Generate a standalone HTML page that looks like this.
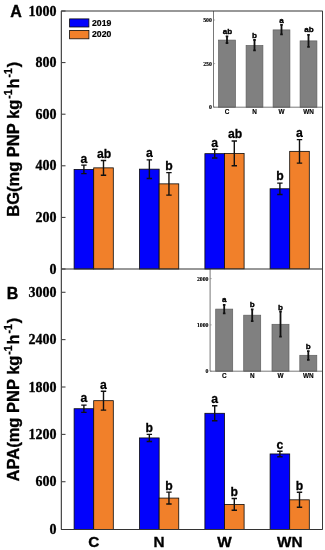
<!DOCTYPE html>
<html><head><meta charset="utf-8"><title>Figure</title>
<style>html,body{margin:0;padding:0;background:#fff}svg{display:block}</style></head>
<body><svg width="325" height="550" viewBox="0 0 325 550">
<rect width="325" height="550" fill="#fff"/>
<rect x="74.10" y="169.41" width="19.60" height="99.59" fill="#0202fc" stroke="#0a0a0a" stroke-width="0.8"/>
<rect x="93.70" y="167.86" width="19.60" height="101.14" fill="#f1802a" stroke="#0a0a0a" stroke-width="0.8"/>
<path d="M83.90 165.15V173.67M81.20 165.15H86.60M81.20 173.67H86.60" stroke="#111" stroke-width="1.4" fill="none"/>
<path d="M103.50 160.51V175.22M100.80 160.51H106.20M100.80 175.22H106.20" stroke="#111" stroke-width="1.4" fill="none"/>
<text x="83.90" y="162.55" font-size="12.2" font-family="Liberation Sans, Arial, sans-serif" font-weight="bold" text-anchor="middle" fill="#000" stroke="#000" stroke-width="0.27" >a</text>
<text x="104.20" y="157.91" font-size="12.2" font-family="Liberation Sans, Arial, sans-serif" font-weight="bold" text-anchor="middle" fill="#000" stroke="#000" stroke-width="0.27" >ab</text>
<rect x="139.55" y="169.15" width="19.60" height="99.85" fill="#0202fc" stroke="#0a0a0a" stroke-width="0.8"/>
<rect x="159.15" y="183.86" width="19.60" height="85.14" fill="#f1802a" stroke="#0a0a0a" stroke-width="0.8"/>
<path d="M149.35 159.87V178.44M146.65 159.87H152.05M146.65 178.44H152.05" stroke="#111" stroke-width="1.4" fill="none"/>
<path d="M168.95 172.64V195.08M166.25 172.64H171.65M166.25 195.08H171.65" stroke="#111" stroke-width="1.4" fill="none"/>
<text x="149.35" y="157.27" font-size="12.2" font-family="Liberation Sans, Arial, sans-serif" font-weight="bold" text-anchor="middle" fill="#000" stroke="#000" stroke-width="0.27" >a</text>
<text x="168.95" y="170.04" font-size="12.2" font-family="Liberation Sans, Arial, sans-serif" font-weight="bold" text-anchor="middle" fill="#000" stroke="#000" stroke-width="0.27" >b</text>
<rect x="204.90" y="153.67" width="19.60" height="115.33" fill="#0202fc" stroke="#0a0a0a" stroke-width="0.8"/>
<rect x="224.50" y="153.42" width="19.60" height="115.58" fill="#f1802a" stroke="#0a0a0a" stroke-width="0.8"/>
<path d="M214.70 149.29V158.06M212.00 149.29H217.40M212.00 158.06H217.40" stroke="#111" stroke-width="1.4" fill="none"/>
<path d="M234.30 141.03V165.80M231.60 141.03H237.00M231.60 165.80H237.00" stroke="#111" stroke-width="1.4" fill="none"/>
<text x="214.70" y="146.69" font-size="12.2" font-family="Liberation Sans, Arial, sans-serif" font-weight="bold" text-anchor="middle" fill="#000" stroke="#000" stroke-width="0.27" >a</text>
<text x="235.00" y="138.43" font-size="12.2" font-family="Liberation Sans, Arial, sans-serif" font-weight="bold" text-anchor="middle" fill="#000" stroke="#000" stroke-width="0.27" >ab</text>
<rect x="270.10" y="188.76" width="19.60" height="80.24" fill="#0202fc" stroke="#0a0a0a" stroke-width="0.8"/>
<rect x="289.70" y="151.35" width="19.60" height="117.65" fill="#f1802a" stroke="#0a0a0a" stroke-width="0.8"/>
<path d="M279.90 183.09V194.44M277.20 183.09H282.60M277.20 194.44H282.60" stroke="#111" stroke-width="1.4" fill="none"/>
<path d="M299.50 139.61V163.09M296.80 139.61H302.20M296.80 163.09H302.20" stroke="#111" stroke-width="1.4" fill="none"/>
<text x="279.90" y="180.49" font-size="12.2" font-family="Liberation Sans, Arial, sans-serif" font-weight="bold" text-anchor="middle" fill="#000" stroke="#000" stroke-width="0.27" >b</text>
<text x="299.50" y="137.01" font-size="12.2" font-family="Liberation Sans, Arial, sans-serif" font-weight="bold" text-anchor="middle" fill="#000" stroke="#000" stroke-width="0.27" >a</text>
<rect x="74.10" y="408.72" width="19.60" height="120.78" fill="#0202fc" stroke="#0a0a0a" stroke-width="0.8"/>
<rect x="93.70" y="400.67" width="19.60" height="128.83" fill="#f1802a" stroke="#0a0a0a" stroke-width="0.8"/>
<path d="M83.90 405.09V412.35M81.20 405.09H86.60M81.20 412.35H86.60" stroke="#111" stroke-width="1.4" fill="none"/>
<path d="M103.50 391.20V410.14M100.80 391.20H106.20M100.80 410.14H106.20" stroke="#111" stroke-width="1.4" fill="none"/>
<text x="83.90" y="402.49" font-size="12.2" font-family="Liberation Sans, Arial, sans-serif" font-weight="bold" text-anchor="middle" fill="#000" stroke="#000" stroke-width="0.27" >a</text>
<text x="103.50" y="388.60" font-size="12.2" font-family="Liberation Sans, Arial, sans-serif" font-weight="bold" text-anchor="middle" fill="#000" stroke="#000" stroke-width="0.27" >a</text>
<rect x="139.55" y="437.93" width="19.60" height="91.57" fill="#0202fc" stroke="#0a0a0a" stroke-width="0.8"/>
<rect x="159.15" y="498.08" width="19.60" height="31.42" fill="#f1802a" stroke="#0a0a0a" stroke-width="0.8"/>
<path d="M149.35 434.38V441.48M146.65 434.38H152.05M146.65 441.48H152.05" stroke="#111" stroke-width="1.4" fill="none"/>
<path d="M168.95 492.16V504.00M166.25 492.16H171.65M166.25 504.00H171.65" stroke="#111" stroke-width="1.4" fill="none"/>
<text x="149.35" y="431.78" font-size="12.2" font-family="Liberation Sans, Arial, sans-serif" font-weight="bold" text-anchor="middle" fill="#000" stroke="#000" stroke-width="0.27" >b</text>
<text x="168.95" y="489.56" font-size="12.2" font-family="Liberation Sans, Arial, sans-serif" font-weight="bold" text-anchor="middle" fill="#000" stroke="#000" stroke-width="0.27" >b</text>
<rect x="204.90" y="413.30" width="19.60" height="116.20" fill="#0202fc" stroke="#0a0a0a" stroke-width="0.8"/>
<rect x="224.50" y="504.40" width="19.60" height="25.10" fill="#f1802a" stroke="#0a0a0a" stroke-width="0.8"/>
<path d="M214.70 405.80V420.80M212.00 405.80H217.40M212.00 420.80H217.40" stroke="#111" stroke-width="1.4" fill="none"/>
<path d="M234.30 498.48V510.32M231.60 498.48H237.00M231.60 510.32H237.00" stroke="#111" stroke-width="1.4" fill="none"/>
<text x="214.70" y="403.20" font-size="12.2" font-family="Liberation Sans, Arial, sans-serif" font-weight="bold" text-anchor="middle" fill="#000" stroke="#000" stroke-width="0.27" >a</text>
<text x="234.30" y="495.88" font-size="12.2" font-family="Liberation Sans, Arial, sans-serif" font-weight="bold" text-anchor="middle" fill="#000" stroke="#000" stroke-width="0.27" >b</text>
<rect x="270.10" y="453.95" width="19.60" height="75.55" fill="#0202fc" stroke="#0a0a0a" stroke-width="0.8"/>
<rect x="289.70" y="499.82" width="19.60" height="29.68" fill="#f1802a" stroke="#0a0a0a" stroke-width="0.8"/>
<path d="M279.90 451.19V456.72M277.20 451.19H282.60M277.20 456.72H282.60" stroke="#111" stroke-width="1.4" fill="none"/>
<path d="M299.50 492.32V507.32M296.80 492.32H302.20M296.80 507.32H302.20" stroke="#111" stroke-width="1.4" fill="none"/>
<text x="279.90" y="448.59" font-size="12.2" font-family="Liberation Sans, Arial, sans-serif" font-weight="bold" text-anchor="middle" fill="#000" stroke="#000" stroke-width="0.27" >c</text>
<text x="299.50" y="489.72" font-size="12.2" font-family="Liberation Sans, Arial, sans-serif" font-weight="bold" text-anchor="middle" fill="#000" stroke="#000" stroke-width="0.27" >b</text>
<path d="M61.5 269.00h4" stroke="#333" stroke-width="1"/>
<text x="56.50" y="273.60" font-size="14" font-family="Liberation Serif, Times New Roman, serif" font-weight="bold" text-anchor="end" fill="#000" stroke="#000" stroke-width="0.31" >0</text>
<path d="M61.5 217.40h4" stroke="#333" stroke-width="1"/>
<text x="56.50" y="222.00" font-size="14" font-family="Liberation Serif, Times New Roman, serif" font-weight="bold" text-anchor="end" fill="#000" stroke="#000" stroke-width="0.31" >200</text>
<path d="M61.5 165.80h4" stroke="#333" stroke-width="1"/>
<text x="56.50" y="170.40" font-size="14" font-family="Liberation Serif, Times New Roman, serif" font-weight="bold" text-anchor="end" fill="#000" stroke="#000" stroke-width="0.31" >400</text>
<path d="M61.5 114.20h4" stroke="#333" stroke-width="1"/>
<text x="56.50" y="118.80" font-size="14" font-family="Liberation Serif, Times New Roman, serif" font-weight="bold" text-anchor="end" fill="#000" stroke="#000" stroke-width="0.31" >600</text>
<path d="M61.5 62.60h4" stroke="#333" stroke-width="1"/>
<text x="56.50" y="67.20" font-size="14" font-family="Liberation Serif, Times New Roman, serif" font-weight="bold" text-anchor="end" fill="#000" stroke="#000" stroke-width="0.31" >800</text>
<path d="M61.5 11.00h4" stroke="#333" stroke-width="1"/>
<text x="56.50" y="15.60" font-size="14" font-family="Liberation Serif, Times New Roman, serif" font-weight="bold" text-anchor="end" fill="#000" stroke="#000" stroke-width="0.31" >1000</text>
<path d="M61.5 529.50h4" stroke="#333" stroke-width="1"/>
<text x="56.50" y="534.10" font-size="14" font-family="Liberation Serif, Times New Roman, serif" font-weight="bold" text-anchor="end" fill="#000" stroke="#000" stroke-width="0.31" >0</text>
<path d="M61.5 481.74h4" stroke="#333" stroke-width="1"/>
<text x="56.50" y="486.34" font-size="14" font-family="Liberation Serif, Times New Roman, serif" font-weight="bold" text-anchor="end" fill="#000" stroke="#000" stroke-width="0.31" >600</text>
<path d="M61.5 434.37h4" stroke="#333" stroke-width="1"/>
<text x="56.50" y="438.97" font-size="14" font-family="Liberation Serif, Times New Roman, serif" font-weight="bold" text-anchor="end" fill="#000" stroke="#000" stroke-width="0.31" >1200</text>
<path d="M61.5 387.01h4" stroke="#333" stroke-width="1"/>
<text x="56.50" y="391.61" font-size="14" font-family="Liberation Serif, Times New Roman, serif" font-weight="bold" text-anchor="end" fill="#000" stroke="#000" stroke-width="0.31" >1800</text>
<path d="M61.5 339.65h4" stroke="#333" stroke-width="1"/>
<text x="56.50" y="344.25" font-size="14" font-family="Liberation Serif, Times New Roman, serif" font-weight="bold" text-anchor="end" fill="#000" stroke="#000" stroke-width="0.31" >2400</text>
<path d="M61.5 292.28h4" stroke="#333" stroke-width="1"/>
<text x="56.50" y="296.88" font-size="14" font-family="Liberation Serif, Times New Roman, serif" font-weight="bold" text-anchor="end" fill="#000" stroke="#000" stroke-width="0.31" >3000</text>
<text x="93.70" y="547.10" font-size="15.3" font-family="Liberation Sans, Arial, sans-serif" font-weight="bold" text-anchor="middle" fill="#000" stroke="#000" stroke-width="0.34" >C</text>
<text x="159.15" y="547.10" font-size="15.3" font-family="Liberation Sans, Arial, sans-serif" font-weight="bold" text-anchor="middle" fill="#000" stroke="#000" stroke-width="0.34" >N</text>
<text x="224.50" y="547.10" font-size="15.3" font-family="Liberation Sans, Arial, sans-serif" font-weight="bold" text-anchor="middle" fill="#000" stroke="#000" stroke-width="0.34" >W</text>
<text x="289.70" y="547.10" font-size="15.3" font-family="Liberation Sans, Arial, sans-serif" font-weight="bold" text-anchor="middle" fill="#000" stroke="#000" stroke-width="0.34" >WN</text>
<text x="10.20" y="17.00" font-size="16" font-family="Liberation Sans, Arial, sans-serif" font-weight="bold" text-anchor="start" fill="#000" stroke="#000" stroke-width="0.35" >A</text>
<text x="6.70" y="299.30" font-size="16" font-family="Liberation Sans, Arial, sans-serif" font-weight="bold" text-anchor="start" fill="#000" stroke="#000" stroke-width="0.35" >B</text>
<text transform="translate(19.4,139.3) rotate(-90)" font-size="16.5" font-family="Liberation Sans, Arial, sans-serif" font-weight="bold" text-anchor="middle" fill="#000" stroke="#000" stroke-width="0.35">BG(mg PNP kg<tspan font-size="10.6" dy="-7.1" dx="0.9">-1</tspan><tspan dy="7.1" dx="0.8">h</tspan><tspan font-size="10.6" dy="-7.1" dx="0.9">-1</tspan><tspan dy="7.1" dx="0.8">)</tspan></text>
<text transform="translate(18.6,399.6) rotate(-90)" font-size="16.5" font-family="Liberation Sans, Arial, sans-serif" font-weight="bold" text-anchor="middle" fill="#000" stroke="#000" stroke-width="0.35">APA(mg PNP kg<tspan font-size="10.6" dy="-7.1" dx="0.9">-1</tspan><tspan dy="7.1" dx="0.8">h</tspan><tspan font-size="10.6" dy="-7.1" dx="0.9">-1</tspan><tspan dy="7.1" dx="0.8">)</tspan></text>
<rect x="69.6" y="18.9" width="19.3" height="8.1" fill="#0202fc" stroke="#0a0a0a" stroke-width="0.8"/>
<rect x="69.6" y="30.4" width="19.3" height="8.4" fill="#f1802a" stroke="#0a0a0a" stroke-width="0.8"/>
<text x="92.00" y="25.90" font-size="8.7" font-family="Liberation Sans, Arial, sans-serif" font-weight="bold" text-anchor="start" fill="#000" stroke="#000" stroke-width="0.19" >2019</text>
<text x="92.00" y="36.90" font-size="8.7" font-family="Liberation Sans, Arial, sans-serif" font-weight="bold" text-anchor="start" fill="#000" stroke="#000" stroke-width="0.19" >2020</text>
<rect x="213.5" y="11.5" width="108.30000000000001" height="95.7" fill="#fff" stroke="none"/>
<rect x="218.60" y="40.10" width="16.80" height="67.10" fill="#808080" stroke="#5e5e5e" stroke-width="0.7"/>
<path d="M227.00 36.40V43.00M225.70 36.40H228.30M225.70 43.00H228.30" stroke="#111" stroke-width="1.8" fill="none"/>
<text x="227.60" y="33.70" font-size="8.1" font-family="Liberation Sans, Arial, sans-serif" font-weight="bold" text-anchor="middle" fill="#000" stroke="#000" stroke-width="0.35" >ab</text>
<text x="227.00" y="114.10" font-size="6.4" font-family="Liberation Sans, Arial, sans-serif" font-weight="bold" text-anchor="middle" fill="#000" stroke="#000" stroke-width="0.14" >C</text>
<rect x="246.10" y="45.50" width="16.80" height="61.70" fill="#808080" stroke="#5e5e5e" stroke-width="0.7"/>
<path d="M254.50 40.00V50.40M253.20 40.00H255.80M253.20 50.40H255.80" stroke="#111" stroke-width="1.8" fill="none"/>
<text x="254.50" y="37.70" font-size="8.1" font-family="Liberation Sans, Arial, sans-serif" font-weight="bold" text-anchor="middle" fill="#000" stroke="#000" stroke-width="0.35" >b</text>
<text x="254.50" y="114.10" font-size="6.4" font-family="Liberation Sans, Arial, sans-serif" font-weight="bold" text-anchor="middle" fill="#000" stroke="#000" stroke-width="0.14" >N</text>
<rect x="273.10" y="29.90" width="16.80" height="77.30" fill="#808080" stroke="#5e5e5e" stroke-width="0.7"/>
<path d="M281.50 24.80V34.40M280.20 24.80H282.80M280.20 34.40H282.80" stroke="#111" stroke-width="1.8" fill="none"/>
<text x="281.50" y="22.50" font-size="8.1" font-family="Liberation Sans, Arial, sans-serif" font-weight="bold" text-anchor="middle" fill="#000" stroke="#000" stroke-width="0.35" >a</text>
<text x="281.50" y="114.10" font-size="6.4" font-family="Liberation Sans, Arial, sans-serif" font-weight="bold" text-anchor="middle" fill="#000" stroke="#000" stroke-width="0.14" >W</text>
<rect x="300.10" y="40.90" width="16.80" height="66.30" fill="#808080" stroke="#5e5e5e" stroke-width="0.7"/>
<path d="M308.50 34.80V46.80M307.20 34.80H309.80M307.20 46.80H309.80" stroke="#111" stroke-width="1.8" fill="none"/>
<text x="309.10" y="31.70" font-size="8.1" font-family="Liberation Sans, Arial, sans-serif" font-weight="bold" text-anchor="middle" fill="#000" stroke="#000" stroke-width="0.35" >ab</text>
<text x="308.50" y="114.10" font-size="6.4" font-family="Liberation Sans, Arial, sans-serif" font-weight="bold" text-anchor="middle" fill="#000" stroke="#000" stroke-width="0.14" >WN</text>
<path d="M213.5 11.0V107.2H322.3" fill="none" stroke="#555" stroke-width="0.8"/>
<path d="M213.5 107.20h1.6" stroke="#777" stroke-width="0.6"/>
<text x="211.90" y="109.10" font-size="5.8" font-family="Liberation Serif, Times New Roman, serif" font-weight="bold" text-anchor="end" fill="#000" stroke="#000" stroke-width="0.13" >0</text>
<path d="M213.5 63.60h1.6" stroke="#777" stroke-width="0.6"/>
<text x="211.90" y="65.50" font-size="5.8" font-family="Liberation Serif, Times New Roman, serif" font-weight="bold" text-anchor="end" fill="#000" stroke="#000" stroke-width="0.13" >250</text>
<path d="M213.5 20.00h1.6" stroke="#777" stroke-width="0.6"/>
<text x="211.90" y="21.90" font-size="5.8" font-family="Liberation Serif, Times New Roman, serif" font-weight="bold" text-anchor="end" fill="#000" stroke="#000" stroke-width="0.13" >500</text>
<rect x="210.1" y="269.5" width="111.70000000000002" height="101.69999999999999" fill="#fff" stroke="none"/>
<rect x="215.70" y="309.10" width="17.00" height="62.10" fill="#808080" stroke="#5e5e5e" stroke-width="0.7"/>
<path d="M224.20 304.90V313.40M222.90 304.90H225.50M222.90 313.40H225.50" stroke="#111" stroke-width="1.8" fill="none"/>
<text x="224.20" y="302.10" font-size="8.1" font-family="Liberation Sans, Arial, sans-serif" font-weight="bold" text-anchor="middle" fill="#000" stroke="#000" stroke-width="0.35" >a</text>
<text x="224.20" y="378.10" font-size="6.4" font-family="Liberation Sans, Arial, sans-serif" font-weight="bold" text-anchor="middle" fill="#000" stroke="#000" stroke-width="0.14" >C</text>
<rect x="243.70" y="315.20" width="17.00" height="56.00" fill="#808080" stroke="#5e5e5e" stroke-width="0.7"/>
<path d="M252.20 309.30V321.10M250.90 309.30H253.50M250.90 321.10H253.50" stroke="#111" stroke-width="1.8" fill="none"/>
<text x="252.20" y="306.50" font-size="8.1" font-family="Liberation Sans, Arial, sans-serif" font-weight="bold" text-anchor="middle" fill="#000" stroke="#000" stroke-width="0.35" >b</text>
<text x="252.20" y="378.10" font-size="6.4" font-family="Liberation Sans, Arial, sans-serif" font-weight="bold" text-anchor="middle" fill="#000" stroke="#000" stroke-width="0.14" >N</text>
<rect x="272.00" y="324.30" width="17.00" height="46.90" fill="#808080" stroke="#5e5e5e" stroke-width="0.7"/>
<path d="M280.50 311.50V336.60M279.20 311.50H281.80M279.20 336.60H281.80" stroke="#111" stroke-width="1.8" fill="none"/>
<text x="280.50" y="309.70" font-size="8.1" font-family="Liberation Sans, Arial, sans-serif" font-weight="bold" text-anchor="middle" fill="#000" stroke="#000" stroke-width="0.35" >b</text>
<text x="280.50" y="378.10" font-size="6.4" font-family="Liberation Sans, Arial, sans-serif" font-weight="bold" text-anchor="middle" fill="#000" stroke="#000" stroke-width="0.14" >W</text>
<rect x="299.80" y="355.30" width="17.00" height="15.90" fill="#808080" stroke="#5e5e5e" stroke-width="0.7"/>
<path d="M308.30 351.20V359.90M307.00 351.20H309.60M307.00 359.90H309.60" stroke="#111" stroke-width="1.8" fill="none"/>
<text x="308.30" y="349.00" font-size="8.1" font-family="Liberation Sans, Arial, sans-serif" font-weight="bold" text-anchor="middle" fill="#000" stroke="#000" stroke-width="0.35" >b</text>
<text x="308.30" y="378.10" font-size="6.4" font-family="Liberation Sans, Arial, sans-serif" font-weight="bold" text-anchor="middle" fill="#000" stroke="#000" stroke-width="0.14" >WN</text>
<path d="M210.1 269.0V371.2H322.3" fill="none" stroke="#555" stroke-width="0.8"/>
<path d="M210.1 371.20h1.6" stroke="#777" stroke-width="0.6"/>
<text x="208.50" y="373.10" font-size="5.8" font-family="Liberation Serif, Times New Roman, serif" font-weight="bold" text-anchor="end" fill="#000" stroke="#000" stroke-width="0.13" >0</text>
<path d="M210.1 324.90h1.6" stroke="#777" stroke-width="0.6"/>
<text x="208.50" y="326.80" font-size="5.8" font-family="Liberation Serif, Times New Roman, serif" font-weight="bold" text-anchor="end" fill="#000" stroke="#000" stroke-width="0.13" >1000</text>
<path d="M210.1 278.60h1.6" stroke="#777" stroke-width="0.6"/>
<text x="208.50" y="280.50" font-size="5.8" font-family="Liberation Serif, Times New Roman, serif" font-weight="bold" text-anchor="end" fill="#000" stroke="#000" stroke-width="0.13" >2000</text>
<path d="M61.0 11.0H322.7M61.0 269.0H322.7M61.0 529.5H322.7" fill="none" stroke="#333" stroke-width="1.1"/>
<path d="M61.35 11.0V529.5" fill="none" stroke="#444" stroke-width="1.2"/>
<path d="M322.5 11.0V529.5" fill="none" stroke="#3a3a3a" stroke-width="1"/>
</svg></body></html>
